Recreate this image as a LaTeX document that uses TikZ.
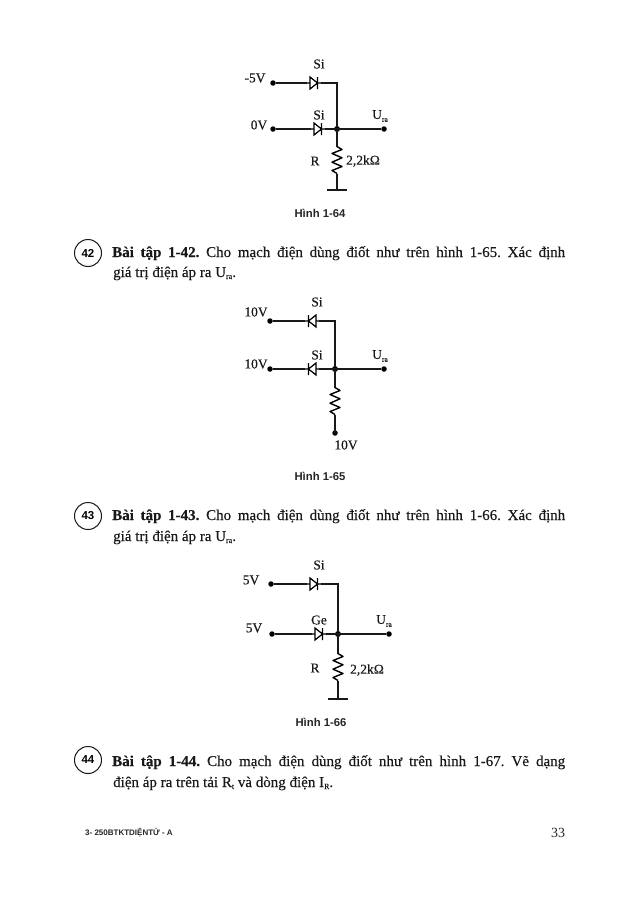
\documentclass[tikz,border=0pt]{standalone}
\usepackage{fontspec}
\setmainfont{Liberation Serif}
\setsansfont{Liberation Sans}
\frenchspacing
\newfontfamily\scanfont[FakeBold=0.25]{Liberation Serif}
\newcommand{\Ura}{U\raisebox{-3pt}{\fontsize{7.5}{7.5}\selectfont ra}}
\newcommand{\subsm}[1]{\raisebox{-2pt}{\fontsize{8}{8}\selectfont #1}}
\tikzset{
  wire/.style={line width=1.4pt,black!90},
  dot/.style={circle,fill=black,inner sep=0pt,minimum size=5.5pt},
  jdot/.style={circle,fill=black,inner sep=0pt,minimum size=6pt},
  lab/.style={inner sep=0pt,font=\scanfont\fontsize{13.5}{15}\selectfont,text=black!90},
  figcap/.style={inner sep=0pt,font=\sffamily\bfseries\fontsize{11.3}{13}\selectfont,text=black!85},
  para/.style={inner sep=0pt,anchor=base west,font=\scanfont\fontsize{15}{17}\selectfont,text=black!90},
  badge/.style={circle,draw=black!90,line width=1pt,minimum size=27pt,inner sep=0pt,font=\sffamily\bfseries\fontsize{11.5}{13}\selectfont},
  dioderight/.style={rectangle,inner sep=0pt,minimum width=14pt,minimum height=15pt,fill=white,
    path picture={\draw[line width=1.2pt,shift={(path picture bounding box.center)}]
      (-7,0)--(-4,0) (-4,-6)--(-4,6)--(3.5,0)--cycle (3.5,-6)--(3.5,6) (3.5,0)--(7,0);}},
  diodeleft/.style={rectangle,inner sep=0pt,minimum width=14pt,minimum height=15pt,fill=white,
    path picture={\draw[line width=1.2pt,shift={(path picture bounding box.center)}]
      (7,0)--(4,0) (4,-6)--(4,6)--(-3.5,0)--cycle (-3.5,-6)--(-3.5,6) (-3.5,0)--(-7,0);}},
  resistor/.style={rectangle,inner sep=0pt,minimum width=14pt,minimum height=27pt,fill=white,
    path picture={\draw[line width=1.4pt,line join=round,shift={(path picture bounding box.center)}]
      (0,-13.5)--(5,-10.5)--(-5,-6.5)--(5,-2.2)--(-5,2.2)--(5,6.5)--(-5,10.5)--(0,13.5);}},
  groundbar/.style={rectangle,fill=black!90,inner sep=0pt,minimum width=20pt,minimum height=1.5pt},
}
\begin{document}
\begin{tikzpicture}[x=1pt,y=-1pt]
\useasboundingbox[fill=white] (0,0) rectangle (638,902);

% Figure 1-64
\node[dot] (a1) at (273,83) {};
\node[dot] (b1) at (273,129) {};
\node[jdot] (j1) at (337,129) {};
\node[dot] (o1) at (384,129) {};
\node[groundbar] (g1) at (337,190) {};
\draw[wire] (a1) -- (314,83) -| (j1);
\draw[wire] (b1) -- (o1);
\draw[wire] (j1.center) -- (g1.center);
\node[dioderight] (d11) at (314,83) {};
\node[dioderight] (d12) at (318,129) {};
\node[resistor] (r1) at (337,160) {};
\node[lab] (l11) at (319,64) {Si};
\node[lab] (l12) at (255,78) {-5V};
\node[lab] (l13) at (319,115) {Si};
\node[lab] (l14) at (259,125) {0V};
\node[lab] (l15) at (380,116) {\Ura};
\node[lab] (l16) at (315,161) {R};
\node[lab] (l17) at (363,161) {2,2kΩ};
\node[figcap] (c1) at (320,213) {Hình 1-64};

% Exercise 42
\node[badge] (n42) at (88,253) {42};
\node[para] (t421) at (112,257) {\makebox[453pt][s]{\textbf{Bài tập 1-42.} Cho mạch điện dùng điốt như trên hình 1-65. Xác định}};
\node[para] (t422) at (113,277) {giá trị điện áp ra U\subsm{ra}.};

% Figure 1-65
\node[dot] (a2) at (270,321) {};
\node[dot] (b2) at (270,369) {};
\node[jdot] (j2) at (335,369) {};
\node[dot] (o2) at (384,369) {};
\node[dot] (v2) at (335,433) {};
\draw[wire] (a2) -- (312,321) -| (j2);
\draw[wire] (b2) -- (o2);
\draw[wire] (j2.center) -- (v2.center);
\node[diodeleft] (d21) at (312,321) {};
\node[diodeleft] (d22) at (312,369) {};
\node[resistor] (r2) at (335,401) {};
\node[lab] (l21) at (317,302) {Si};
\node[lab] (l22) at (256,312) {10V};
\node[lab] (l23) at (317,355) {Si};
\node[lab] (l24) at (256,364) {10V};
\node[lab] (l25) at (380,356) {\Ura};
\node[lab] (l26) at (346,445) {10V};
\node[figcap] (c2) at (320,476) {Hình 1-65};

% Exercise 43
\node[badge] (n43) at (88,516) {43};
\node[para] (t431) at (112,520) {\makebox[453pt][s]{\textbf{Bài tập 1-43.} Cho mạch điện dùng điốt như trên hình 1-66. Xác định}};
\node[para] (t432) at (113,541) {giá trị điện áp ra U\subsm{ra}.};

% Figure 1-66
\node[dot] (a3) at (271,584) {};
\node[dot] (b3) at (272,634) {};
\node[jdot] (j3) at (338,634) {};
\node[dot] (o3) at (389,634) {};
\node[groundbar] (g3) at (338,699) {};
\draw[wire] (a3) -- (314,584) -| (j3);
\draw[wire] (b3) -- (o3);
\draw[wire] (j3.center) -- (g3.center);
\node[dioderight] (d31) at (314,584) {};
\node[dioderight] (d32) at (319,634) {};
\node[resistor] (r3) at (338,667) {};
\node[lab] (l31) at (319,565) {Si};
\node[lab] (l32) at (251,580) {5V};
\node[lab] (l33) at (319,620) {Ge};
\node[lab] (l34) at (254,628) {5V};
\node[lab] (l35) at (384,621) {\Ura};
\node[lab] (l36) at (315,668) {R};
\node[lab] (l37) at (367,670) {2,2kΩ};
\node[figcap] (c3) at (321,722) {Hình 1-66};

% Exercise 44
\node[badge] (n44) at (88,760) {44};
\node[para] (t441) at (112,766) {\makebox[453pt][s]{\textbf{Bài tập 1-44.} Cho mạch điện dùng điốt như trên hình 1-67. Vẽ dạng}};
\node[para] (t442) at (113,787) {điện áp ra trên tải R\subsm{t} và dòng điện I\subsm{R}.};

% Footer
\node[inner sep=0pt,anchor=west,font=\sffamily\bfseries\fontsize{8}{9}\selectfont,text=black!85] (f1) at (85,833) {3- 250BTKTDIỆNTỬ - A};
\node[inner sep=0pt,font=\fontsize{14}{16}\selectfont,text=black!85] (f2) at (558,833) {33};
\end{tikzpicture}
\end{document}
